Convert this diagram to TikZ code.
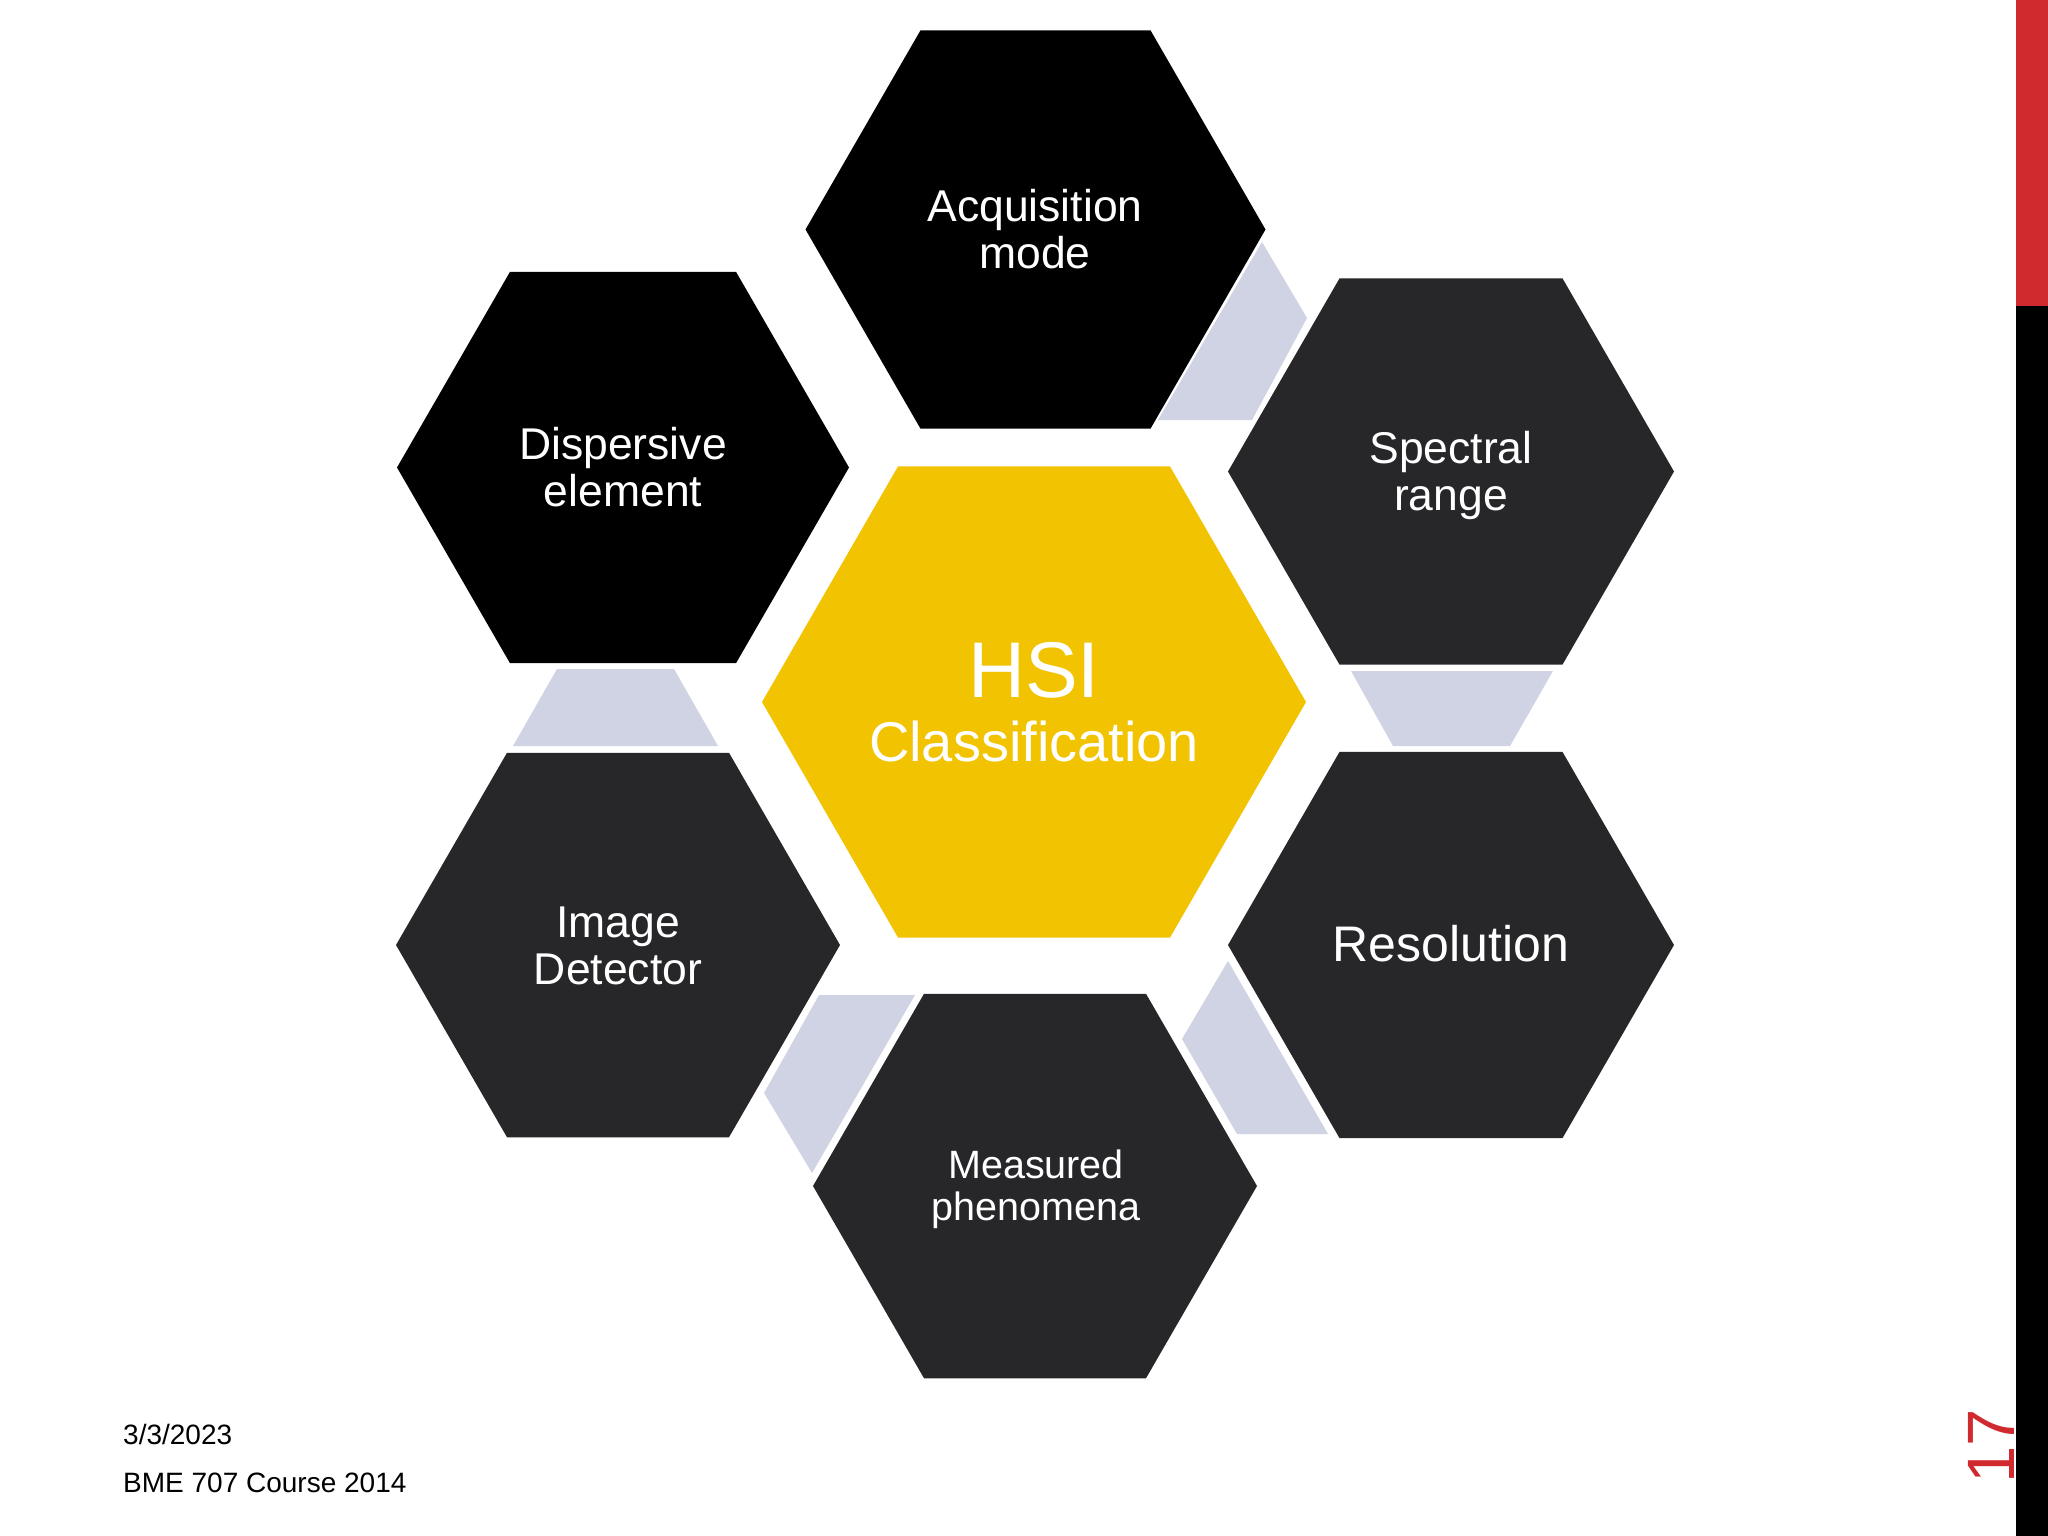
\documentclass[tikz,border=0pt]{standalone}
\usepackage{fontspec}
\setmainfont{Liberation Sans}
\definecolor{hexblack}{HTML}{000000}
\definecolor{hexdark}{HTML}{27272A}
\definecolor{hexyellow}{HTML}{F2C300}
\definecolor{lavender}{HTML}{D0D3E4}
\definecolor{barred}{HTML}{D12A2E}
\newcommand\fsz[1]{\fontsize{#1}{#1}\selectfont}
\newcommand\hexat[4]{% cx, cy, R, colour
  \fill[#4] ({#1+#3},{#2}) -- ({#1+0.5*#3},{#2-0.866*#3}) -- ({#1-0.5*#3},{#2-0.866*#3})
    -- ({#1-#3},{#2}) -- ({#1-0.5*#3},{#2+0.866*#3}) -- ({#1+0.5*#3},{#2+0.866*#3}) -- cycle;}
\tikzset{
  lbl/.style={anchor=base, inner sep=0pt, text=white},
  foot/.style={anchor=base west, inner sep=0pt, text=black, font=\fsz{28}},
  piece/.style={fill=lavender}
}
\begin{document}
\begin{tikzpicture}[x=1pt,y=-1pt]
\useasboundingbox (0,0) rectangle (2048,1536);
\fill[white] (0,0) rectangle (2048,1536);

% connector pieces
\fill[piece] (1262,242) -- (1307,318) -- (1252,420) -- (1158,420) -- cycle;
\fill[piece] (557,669) -- (674,669) -- (718,746) -- (513,746) -- cycle;
\fill[piece] (1351,671) -- (1553,671) -- (1510,746) -- (1393,746) -- cycle;
\fill[piece] (819,995) -- (915,995) -- (812,1173) -- (764,1093) -- cycle;
\fill[piece] (1228,961) -- (1328,1134) -- (1237,1134) -- (1182,1039) -- cycle;

% hexagons
\hexat{1035.5}{229.5}{230}{hexblack}
\hexat{623}{467.5}{226}{hexblack}
\hexat{1451}{471.5}{223}{hexdark}
\hexat{618}{945}{222}{hexdark}
\hexat{1451}{945}{223}{hexdark}
\hexat{1035}{1186}{222}{hexdark}
\hexat{1034}{702}{272}{hexyellow}

% labels
\node[lbl, font=\fsz{44.5}] (acq1) at (1035,221) {Acquisition};
\node[lbl, font=\fsz{44.5}] (acq2) at (1035,268) {mode};
\node[lbl, font=\fsz{44.5}] (dis1) at (623,459) {Dispersive};
\node[lbl, font=\fsz{44.5}] (dis2) at (623,506) {element};
\node[lbl, font=\fsz{44.5}] (spe1) at (1451,463) {Spectral};
\node[lbl, font=\fsz{44.5}] (spe2) at (1451,510) {range};
\node[lbl, font=\fsz{44.5}] (img1) at (618,937) {Image};
\node[lbl, font=\fsz{44.5}] (img2) at (618,984) {Detector};
\node[lbl, font=\fsz{50}] (res1) at (1451,961) {Resolution};
\node[lbl, font=\fsz{39.5}] (mea1) at (1036,1178) {Measured};
\node[lbl, font=\fsz{39.5}] (mea2) at (1036,1220.5) {phenomena};
\node[lbl, font=\fsz{79}] (hsi1) at (1034,697) {HSI};
\node[lbl, font=\fsz{56}] (hsi2) at (1034,761) {Classification};

% footer
\node[foot] (date) at (123,1444) {3/3/2023};
\node[foot] (course) at (123,1492) {BME 707 Course 2014};

% page number and side bar
\node[anchor=base, inner sep=0pt, text=barred, font=\fsz{67}, rotate=90] (pnum) at (2014,1446) {17};
\fill[barred] (2016,0) rectangle (2048,306);
\fill[black] (2016,306) rectangle (2048,1536);
\end{tikzpicture}
\end{document}
